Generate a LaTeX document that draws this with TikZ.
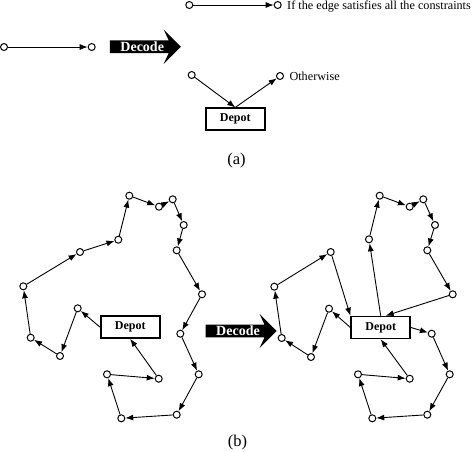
\documentclass[tikz,border=0pt]{standalone}
\usepackage{fontspec}
\setmainfont{Liberation Serif}
\usetikzlibrary{arrows.meta,shapes.arrows}

\begin{document}
\begin{tikzpicture}[x=1pt,y=-1pt,font=\fontsize{12.2}{14}\selectfont]
    \tikzstyle{cust node}=[circle,draw,line width=1pt,fill=white,inner sep=0,minimum size=7pt]
    \tikzstyle{depot node}=[draw,line width=1.6pt,minimum width=59pt,minimum height=22pt,inner sep=0,font=\fontsize{12}{14}\selectfont\bfseries]
    \tikzstyle{decode node}=[single arrow,fill=black,text=white,inner sep=0,minimum height=71pt,minimum width=34.5pt,single arrow head extend=8.6pt,single arrow head indent=5pt,font=\fontsize{14}{16}\selectfont\bfseries]
    \tikzstyle{route}=[line width=0.9pt,-{Latex[length=8pt,width=6pt]}]
    \tikzstyle{caption}=[font=\fontsize{16.5}{18}\selectfont]

    \useasboundingbox (0,0) rectangle (474,451);

    % (a) decoding rule
    \node[cust node] (a1) at (189.3,5) {};
    \node[cust node,label={[label distance=2pt,yshift=-2pt]right:If the edge satisfies all the constraints}] (a2) at (277.7,5) {};
    \node[cust node] (b1) at (4,47) {};
    \node[cust node] (b2) at (91.7,47) {};
    \node[decode node] (decA) at (142.2,46.7) {Decode};
    \node[cust node] (c1) at (191.7,75) {};
    \node[cust node,label={[label distance=2pt]right:Otherwise}] (c2) at (280,76) {};
    \node[depot node] (depA) at (235.3,119.2) {Depot};
    \node[caption] (capA) at (236.5,161) {(a)};

    \draw[route] (a1) -- (a2);
    \draw[route] (b1) -- (b2);
    \draw[route] (c1) -- (depA.north);
    \draw[route] (depA.north) -- (c2);

    % (b) giant tour
    \node[depot node] (depL) at (130.2,327) {Depot};
    \node[cust node] (L1) at (77.7,308.3) {};
    \node[cust node] (L2) at (60,356) {};
    \node[cust node] (L3) at (30.7,337.7) {};
    \node[cust node] (L4) at (23.3,286.3) {};
    \node[cust node] (L5) at (80,252) {};
    \node[cust node] (L6) at (118.3,239.7) {};
    \node[cust node] (L7) at (129.3,195.7) {};
    \node[cust node] (L8) at (159,206.7) {};
    \node[cust node] (L9) at (172.7,199.3) {};
    \node[cust node] (L10) at (183.7,225) {};
    \node[cust node] (L11) at (176.7,250.3) {};
    \node[cust node] (L12) at (202,294.3) {};
    \node[cust node] (L13) at (180.3,333.7) {};
    \node[cust node] (L14) at (198.7,374.3) {};
    \node[cust node] (L15) at (176.7,414.7) {};
    \node[cust node] (L16) at (121.3,418.3) {};
    \node[cust node] (L17) at (107,374.3) {};
    \node[cust node] (L18) at (158.7,378.7) {};

    \draw[route] (depL.west) -- (L1);
    \draw[route] (L1) -- (L2);
    \draw[route] (L2) -- (L3);
    \draw[route] (L3) -- (L4);
    \draw[route] (L4) -- (L5);
    \draw[route] (L5) -- (L6);
    \draw[route] (L6) -- (L7);
    \draw[route] (L7) -- (L8);
    \draw[route] (L8) -- (L9);
    \draw[route] (L9) -- (L10);
    \draw[route] (L10) -- (L11);
    \draw[route] (L11) -- (L12);
    \draw[route] (L12) -- (L13);
    \draw[route] (L13) -- (L14);
    \draw[route] (L14) -- (L15);
    \draw[route] (L15) -- (L16);
    \draw[route] (L16) -- (L17);
    \draw[route] (L17) -- (L18);
    \draw[route] (L18) -- (depL.south);

    \node[decode node] (decB) at (238,331) {Decode};

    % (b) decoded routes
    \node[depot node] (depR) at (380.7,327.5) {Depot};
    \node[cust node] (R1) at (329,308.7) {};
    \node[cust node] (R2) at (311,357) {};
    \node[cust node] (R3) at (281.7,338) {};
    \node[cust node] (R4) at (274.3,286.7) {};
    \node[cust node] (R5) at (330.7,252) {};
    \node[cust node] (R6) at (369,239.3) {};
    \node[cust node] (R7) at (379.7,195.7) {};
    \node[cust node] (R8) at (409.7,206.7) {};
    \node[cust node] (R9) at (423.3,199.3) {};
    \node[cust node] (R10) at (435,225) {};
    \node[cust node] (R11) at (427.3,250.3) {};
    \node[cust node] (R12) at (452.7,294.3) {};
    \node[cust node] (R13) at (431.7,333.7) {};
    \node[cust node] (R14) at (449.7,374.3) {};
    \node[cust node] (R15) at (427.3,414.7) {};
    \node[cust node] (R16) at (372.3,418.3) {};
    \node[cust node] (R17) at (358,374.3) {};
    \node[cust node] (R18) at (409.7,378.7) {};

    \draw[route] (depR.west) -- (R1);
    \draw[route] (R1) -- (R2);
    \draw[route] (R2) -- (R3);
    \draw[route] (R3) -- (R4);
    \draw[route] (R4) -- (R5);
    \draw[route] (R5) -- (depR.north west);
    \draw[route] (depR.north) -- (R6);
    \draw[route] (R6) -- (R7);
    \draw[route] (R7) -- (R8);
    \draw[route] (R8) -- (R9);
    \draw[route] (R9) -- (R10);
    \draw[route] (R10) -- (R11);
    \draw[route] (R11) -- (R12);
    \draw[route] (R12) -- ([xshift=5pt]depR.north);
    \draw[route] (depR.east) -- (R13);
    \draw[route] (R13) -- (R14);
    \draw[route] (R14) -- (R15);
    \draw[route] (R15) -- (R16);
    \draw[route] (R16) -- (R17);
    \draw[route] (R17) -- (R18);
    \draw[route] (R18) -- (depR.south);

    \node[caption] (capB) at (237.5,443) {(b)};
\end{tikzpicture}
\end{document}
